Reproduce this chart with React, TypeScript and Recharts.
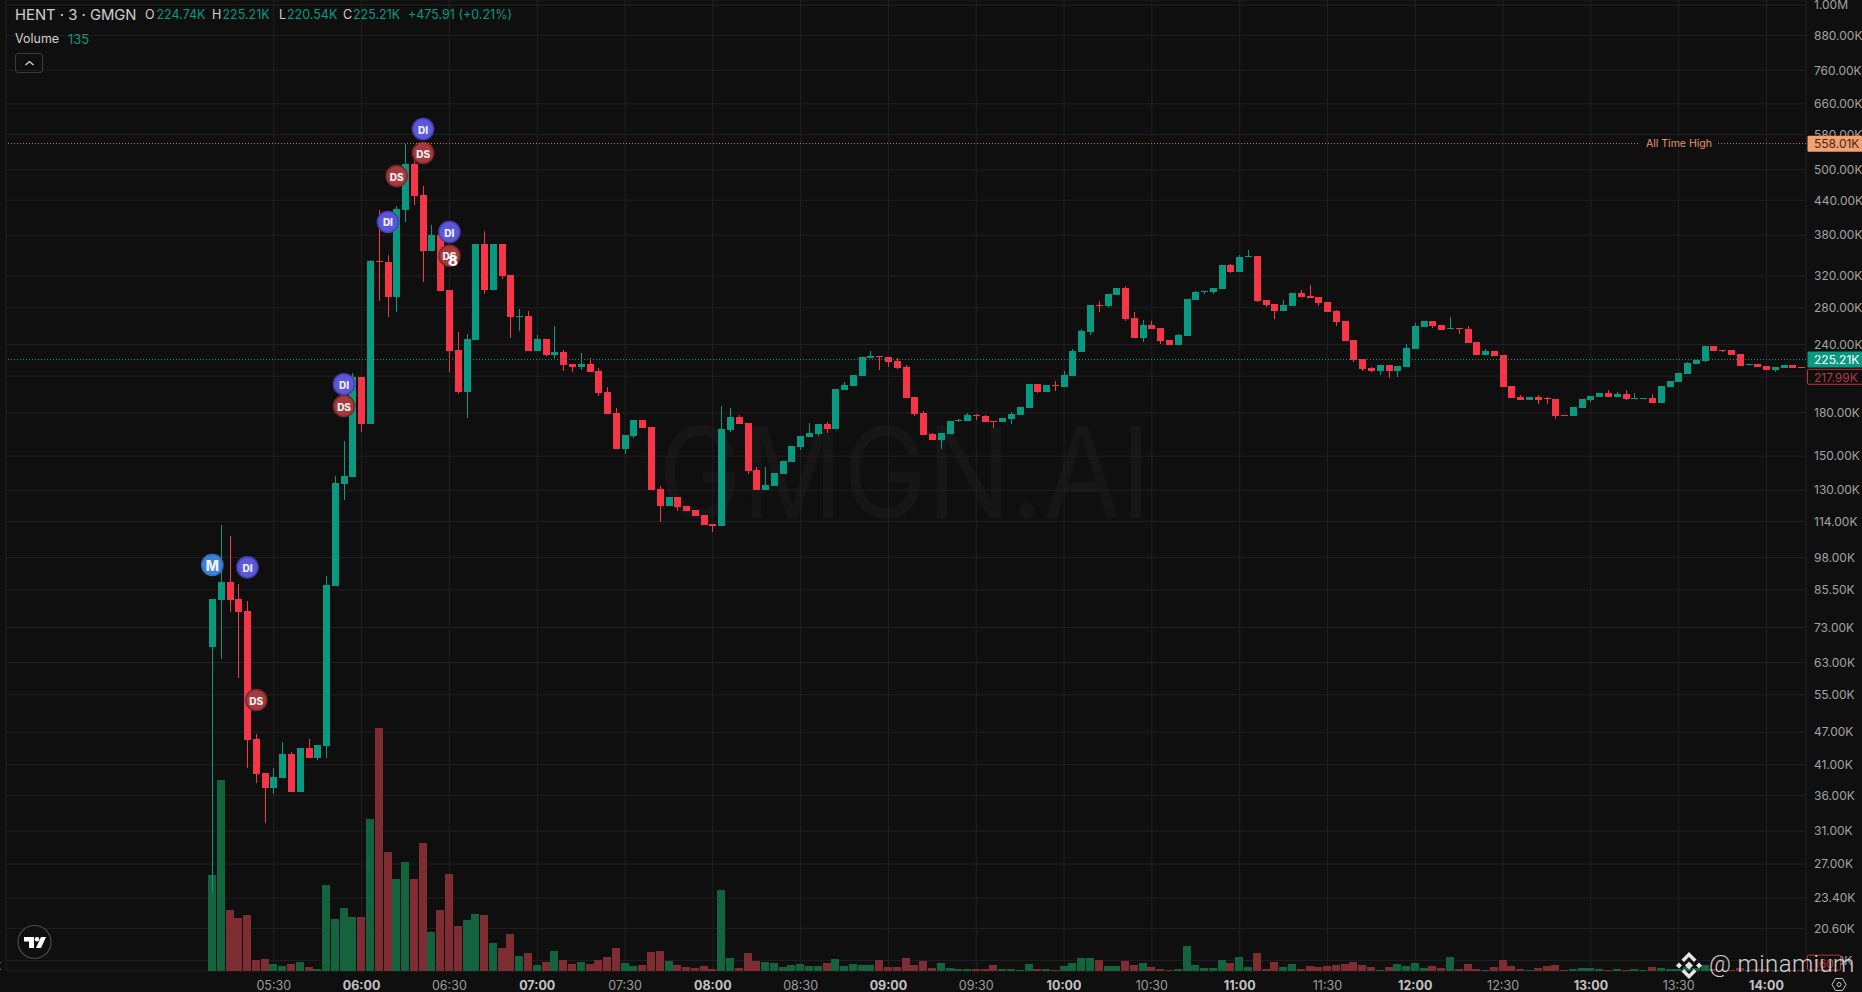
import {
  Bar,
  CartesianGrid,
  ComposedChart,
  ReferenceDot,
  ReferenceLine,
  XAxis,
  YAxis,
} from "recharts";

const BG = "#0f0f0f";
const GRID = "#212121";
const UP = "#089981";
const DOWN = "#f63648";
const VOL_UP = "#14633f";
const VOL_DOWN = "#7e2e33";
const AXIS_TEXT = "#a3a3a3";
const FONT = "Inter, 'Noto Sans', sans-serif";

// prices in thousands, one entry per 3 minute candle starting at 05:09
const OPENS = [
  67.2, 81.9, 88.4, 82.2, 78.2, 45.7, 39.6, 37.2, 38.8, 42.9, 36.5, 44, 42.2, 44.3, 86.8, 133.4, 137.4, 209.2, 171.7, 340.8,
  339.4, 292.8, 422.3, 512.3, 450, 355.4, 380.2, 301.6, 234.4, 196.4, 244.4, 366.1, 301.6, 366.1, 321, 269.5, 270.5, 233.4, 245.4, 229.5,
  232.4, 220.9, 218.2, 220.9, 214.6, 196.4, 179.8, 154.5, 163.2, 174.6, 169.5, 130.6, 121.6, 126.3, 121.6, 119.6, 117.1, 112.8, 111.8, 167.4,
  176.8, 172.4, 141.5, 130.1, 132.3, 139.1, 146.4, 155.8, 162.5, 164.6, 171.7, 168.1, 198.1, 201.5, 210.1, 226.6, 228.5, 227.6, 223.8, 218.2,
  192.3, 179.8, 164.6, 160.5, 164.6, 173.9, 173.9, 178.3, 177.5, 173.9, 173.1, 175.3, 178.3, 183.7, 203.2, 196.4, 202.3, 200.6, 210.1, 232.4,
  252.9, 283.2, 282, 295.4, 304.2, 268.2, 246.5, 260.4, 257.2, 244.4, 239.2, 248.6, 289.2, 299, 299, 302.9, 335.1, 325.3, 346.6, 348,
  289.2, 284.4, 276.1, 282, 298, 294, 292.8, 286.8, 276.1, 264.8, 244.4, 225.6, 217.3, 214.6, 220, 214.6, 218.2, 235.4, 258.2, 264.8,
  260.4, 256.1, 257.2, 256.1, 242.3, 229.5, 233.4, 229.5, 201.5, 192.3, 189.9, 192.3, 191.5, 190.7, 178.3, 177.5, 183.7, 189.9, 192.3, 195.6,
  192.3, 194.7, 190.7, 190.7, 191.5, 187.6, 200.6, 204.9, 211.9, 221, 223.8, 238.2, 234.4, 234.4, 230.5, 220, 220.9, 219.1, 215.5, 217.3,
  220, 218.2,
];
const HIGHS = [
  82.2, 112.3, 107.2, 87.6, 81.6, 46.6, 39.6, 40.4, 45.1, 43.2, 44, 45.7, 44.5, 90.6, 138, 159.8, 212.8, 209.2, 342.2, 422.3,
  349.4, 430, 558.01, 518.9, 466.9, 396.6, 380.2, 301.6, 252.9, 250.8, 366.1, 386.6, 366.1, 366.1, 321, 278.5, 276.1, 249.7, 245.4, 259.3,
  234.4, 220.9, 231.5, 226.6, 217.3, 200.6, 183.7, 163.9, 174.6, 174.6, 169.5, 132.3, 126.3, 126.3, 121.6, 119.6, 117.1, 112.8, 185.2, 183.7,
  178.3, 172.4, 143.3, 143.3, 139.7, 146.9, 156.5, 163.2, 172.4, 171.7, 173.1, 198.9, 204.8, 211.1, 227.6, 233.4, 228.5, 227.6, 226.6, 220,
  192.3, 181.3, 165.3, 165.3, 173.9, 175.3, 179.8, 179, 178.3, 173.9, 176.1, 180.6, 184.4, 203.2, 203.2, 202.3, 205.7, 214.6, 235.4, 256.1,
  283.2, 288, 296.6, 304.2, 306.7, 275, 265.9, 264.8, 257.2, 244.4, 250.8, 290.4, 300.3, 300.3, 304.2, 335.1, 336.5, 349.4, 356.9, 348,
  289.2, 284.4, 289.2, 298, 301.6, 307.9, 292.8, 286.8, 277.3, 264.8, 244.4, 225.6, 218.2, 220, 220, 219.1, 240.2, 262.6, 264.8, 264.8,
  260.4, 269.3, 257.2, 259.3, 242.3, 235.4, 233.4, 229.5, 201.5, 194, 192.3, 194, 192.3, 190.7, 178.3, 184.4, 190.7, 193.1, 195.6, 198.1,
  196.4, 198.1, 195.6, 191.5, 194.7, 201.5, 205.7, 212.8, 222.8, 224.7, 238.2, 238.2, 234.4, 234.4, 230.5, 220.9, 220.9, 219.1, 218.2, 220,
  220, 218.2,
];
const LOWS = [
  24, 63.9, 77.9, 59, 40.4, 37.9, 32.1, 36.3, 38.8, 36.5, 36.5, 42.2, 41.8, 42.2, 86.8, 124.7, 137.4, 166, 171.7, 288,
  269.3, 275, 401.6, 431.3, 312, 355.4, 300.3, 213.7, 194.7, 176.1, 244.4, 296.6, 301.6, 316, 246.5, 253.9, 233.4, 233.4, 228.5, 226.6,
  214.6, 213.7, 215.5, 213.7, 193, 179, 154.5, 151.3, 161.9, 168.8, 130.1, 113.8, 121.6, 119.1, 119.1, 116.6, 112.3, 109.1, 111.8, 166,
  171.7, 139.1, 130.1, 130.1, 132.3, 139.1, 146.4, 153.9, 162.5, 163.2, 165.3, 168.1, 198.1, 201.5, 210.1, 226.6, 215.5, 218.2, 216.4, 191.5,
  177.5, 163.9, 160.5, 154.5, 164.6, 173.1, 173.9, 174.6, 173.1, 168.8, 173.1, 171.7, 178.3, 183.7, 195.6, 196.4, 197.3, 200.6, 210.1, 232.4,
  249.7, 275, 280.7, 295.4, 264.8, 246.5, 242.3, 256.1, 240.2, 239.2, 239.2, 248.6, 289.2, 296.6, 296.6, 302.9, 323.9, 325.3, 346.6, 286.8,
  280.7, 267, 276.1, 282, 292.8, 291.6, 282, 275, 259.3, 243.4, 222.8, 214.6, 213.7, 211.1, 208.4, 209.2, 218.2, 235.4, 258.2, 257.2,
  255, 256.1, 250.8, 241.3, 229.5, 229.5, 228.5, 200.6, 191.5, 189.9, 189.9, 186.8, 186.8, 175.3, 177.5, 177.5, 183.7, 188.3, 192.3, 192.3,
  192.3, 189.9, 190.7, 190.7, 187.6, 187.6, 200.6, 204.9, 211.9, 221, 222.8, 233.4, 232.4, 229.5, 219.1, 220, 218.2, 215.5, 213.7, 217.3,
  217.3, 217.99,
];
const CLOSES = [
  82.2, 88.4, 81.9, 77.9, 45.5, 39.4, 37.2, 39, 42.9, 36.5, 44, 42.2, 44.5, 87.2, 134, 138, 209.2, 171.7, 340.8, 339.4,
  292.8, 424.1, 512.3, 448, 355.4, 380.2, 300.3, 233.4, 196.4, 245.4, 366.1, 301.6, 366.1, 320, 269.3, 270.5, 233.4, 245.4, 229.5, 232.4,
  220, 218.2, 220.9, 213.7, 195.6, 179, 154.5, 163.9, 174.6, 168.8, 130.1, 121.6, 126.3, 121.1, 119.1, 116.6, 112.3, 111.8, 168.1, 176.8,
  171.7, 140.9, 130.1, 132.9, 139.7, 146.9, 156.5, 163.2, 165.3, 171.7, 168.1, 198.9, 202.3, 211.1, 227.6, 228.5, 227.6, 222.8, 217.3, 191.5,
  179, 163.9, 160.5, 165.3, 173.9, 174.6, 178.3, 177.5, 173.1, 173.1, 176.1, 179, 184.4, 203.2, 196.4, 202.3, 201.5, 211.1, 233.4, 253.9,
  283.2, 282, 296.6, 304.2, 267, 246.5, 260.4, 256.1, 243.4, 239.2, 249.7, 290.4, 299, 300.3, 304.2, 335.1, 325.3, 346.6, 348, 288,
  283.2, 276.1, 283.2, 298, 292.8, 291.6, 285.6, 275, 263.7, 243.4, 224.7, 216.4, 214.6, 220, 214.6, 219.1, 236.4, 259.3, 264.8, 259.3,
  255, 257.2, 256.1, 241.3, 229.5, 233.4, 228.5, 200.6, 191.5, 189.9, 192.3, 189.9, 190.7, 177.5, 177.5, 184.4, 190.7, 193.1, 195.6, 192.3,
  194.7, 190.7, 191.5, 191.5, 187.6, 201.5, 205.7, 212.8, 221.9, 224.7, 238.2, 233.4, 233.4, 229.5, 219.1, 220.9, 218.2, 215.5, 218.2, 220,
  217.3, 217.99,
];
const VOLUMES = [
  9600, 19100, 6100, 5300, 5600, 1100, 1200, 700, 500, 700, 900, 400, 200, 8600, 5200, 6300, 5400, 5400, 15200, 24300,
  11900, 9200, 10900, 9200, 12800, 3900, 6100, 9700, 4500, 5100, 5700, 5600, 2800, 2300, 3700, 1500, 1800, 600, 900, 2000,
  1100, 700, 900, 700, 1100, 1400, 2300, 800, 500, 600, 1900, 2000, 1000, 600, 400, 300, 500, 200, 8100, 1300,
  300, 1800, 1000, 900, 800, 400, 600, 700, 500, 500, 800, 1200, 500, 700, 600, 600, 1100, 400, 400, 1300,
  600, 1000, 300, 800, 300, 200, 200, 200, 200, 600, 200, 200, 100, 700, 200, 200, 100, 500, 800, 1300,
  1300, 1100, 500, 500, 1000, 600, 800, 400, 200, 100, 200, 2500, 600, 300, 300, 1100, 800, 1400, 400, 1800,
  200, 900, 400, 700, 200, 500, 400, 500, 600, 700, 900, 600, 400, 100, 400, 700, 500, 800, 300, 500,
  300, 1400, 200, 700, 200, 100, 400, 1100, 500, 200, 100, 300, 500, 600, 100, 200, 300, 300, 200, 100,
  200, 100, 200, 100, 400, 300, 200, 200, 400, 300, 600, 200, 100, 100, 300, 100, 200, 200, 100, 100,
  100, 135,
];

const PRICE_TICKS = [
  1000, 880, 760, 660, 580, 500, 440, 380, 320, 280, 240, 210, 180, 150, 130, 114, 98, 85.5, 73, 63, 55, 47, 41, 36, 31, 27,
  23.4, 20.6, 18,
];
const TIME_TICKS = [
  "05:30", "06:00", "06:30", "07:00", "07:30", "08:00", "08:30", "09:00", "09:30", "10:00", "10:30", "11:00", "11:30",
  "12:00", "12:30", "13:00", "13:30", "14:00",
];

// the time scale opens empty at 04:00, the first candle is number 23
const EMPTY_SLOTS = 23;
const SLOT_COUNT = EMPTY_SLOTS + OPENS.length;
const PRICE_DOMAIN = [17.22, 1021.2];

const MARKERS = [
  { time: "05:09", price: 94.9, kind: "M" },
  { time: "05:21", price: 94, kind: "DI" },
  { time: "05:24", price: 53.8, kind: "DS" },
  { time: "05:54", price: 203, kind: "DI" },
  { time: "05:54", price: 185.2, kind: "DS" },
  { time: "06:09", price: 401.6, kind: "DI" },
  { time: "06:12", price: 487, kind: "DS" },
  { time: "06:21", price: 593.5, kind: "DI" },
  { time: "06:21", price: 536.6, kind: "DS" },
  { time: "06:30", price: 385, kind: "DI" },
  { time: "06:30", price: 348.5, kind: "DS" },
];

const slotTime = (i: number) => {
  const minutes = 4 * 60 + i * 3;
  const hh = String(Math.floor(minutes / 60)).padStart(2, "0");
  const mm = String(minutes % 60).padStart(2, "0");
  return `${hh}:${mm}`;
};

const data = Array.from({ length: SLOT_COUNT }, (_, i) => {
  const c = i - EMPTY_SLOTS;
  if (c < 0) return { time: slotTime(i) };
  const open = OPENS[c];
  const close = CLOSES[c];
  return {
    time: slotTime(i),
    open,
    close,
    wick: [LOWS[c], HIGHS[c]],
    body: [Math.min(open, close), Math.max(open, close)],
    volume: VOLUMES[c],
  };
});

const formatPrice = (v: number) => (v >= 1000 ? `${(v / 1000).toFixed(2)}M` : `${v.toFixed(2)}K`);

function CandlePart(props: any) {
  const { x, y, width, height, payload } = props;
  if (payload?.open == null) return null;
  const top = Math.round(y);
  const h = Math.max(Math.round(y + height) - top, 1);
  return (
    <rect
      x={Math.round(x)}
      y={top}
      width={width}
      height={h}
      fill={payload.close >= payload.open ? UP : DOWN}
      shapeRendering="crispEdges"
    />
  );
}

function VolumeBar(props: any) {
  const { x, y, width, height, payload } = props;
  if (payload?.open == null) return null;
  const top = Math.round(y);
  return (
    <rect
      x={Math.round(x)}
      y={top}
      width={width}
      height={Math.max(Math.round(y + height) - top, 1)}
      fill={payload.close >= payload.open ? VOL_UP : VOL_DOWN}
      shapeRendering="crispEdges"
    />
  );
}

function TimeTick(props: any) {
  const { x, y, payload } = props;
  const hour = payload.value.endsWith(":00");
  return (
    <text
      x={x}
      y={y + 6}
      textAnchor="middle"
      dominantBaseline="central"
      fontFamily={FONT}
      fontSize={12.5}
      fontWeight={hour ? 700 : 400}
      fill={hour ? "#c4c4c4" : "#9c9c9c"}
    >
      {payload.value}
    </text>
  );
}

function PriceTag(props: any) {
  const { viewBox, text, bg, fg, border, note, noteColor, tagWidth, dy = 0 } = props;
  const right = viewBox.x + viewBox.width;
  const y = viewBox.y;
  return (
    <g>
      {note ? (
        <>
          <rect x={right - 167} y={y - 6} width={77} height={12} fill={BG} />
          <text x={right - 127} y={y} textAnchor="middle" dominantBaseline="central" fontFamily={FONT} fontSize={10.5} fill={noteColor}>
            {note}
          </text>
        </>
      ) : null}
      <rect x={right + 1.5} y={y + dy - 8} width={tagWidth ?? 55} height={border ? 15 : 16} fill={bg} stroke={border ?? "none"} rx={1} />
      <text x={right + 8} y={y + dy} dominantBaseline="central" fontFamily={FONT} fontSize={12} fill={fg}>
        {text}
      </text>
    </g>
  );
}

function MarkerIcon(props: any) {
  const { cx, cy, kind } = props;
  const fill = kind === "M" ? "#3b82dc" : kind === "DI" ? "#5b58dc" : "#a63a3d";
  const ring = kind === "M" ? "#3472c4" : kind === "DI" ? "#4a40b4" : "#7c2a2d";
  return (
    <g>
      <circle cx={cx} cy={cy} r={10.5} fill={fill} stroke={ring} strokeWidth={1.6} />
      <text
        x={cx}
        y={cy + 0.5}
        textAnchor="middle"
        dominantBaseline="central"
        fontFamily={FONT}
        fontSize={kind === "M" ? 14 : 10}
        fontWeight={800}
        fill="#f2f2f2"
      >
        {kind}
      </text>
    </g>
  );
}

function Label({ x, y, color, size, weight, children }: any) {
  return (
    <span
      style={{
        position: "absolute",
        left: x,
        top: y,
        transform: "translateY(-50%)",
        color,
        fontSize: size,
        fontWeight: weight ?? 400,
        whiteSpace: "nowrap",
        lineHeight: 1,
      }}
    >
      {children}
    </span>
  );
}

function Header() {
  const light = "#cfcfcf";
  const rows: [number, number, string, string][] = [
    [145, 156.5, "O", "224.74K"],
    [212, 222.5, "H", "225.21K"],
    [279, 287, "L", "220.54K"],
    [343, 353, "C", "225.21K"],
  ];
  return (
    <>
      <Label x={15} y={15} color={light} size={14.8}>HENT · 3 · GMGN</Label>
      {rows.map(([x, vx, key, value]) => (
        <span key={key}>
          <Label x={x} y={15} color={light} size={12.5}>{key}</Label>
          <Label x={vx} y={15} color={UP} size={12.5}>{value}</Label>
        </span>
      ))}
      <Label x={408} y={15} color={UP} size={12.5}>+475.91 (+0.21%)</Label>
      <Label x={15} y={38.5} color={light} size={12.5}>Volume</Label>
      <Label x={68} y={38.5} color={UP} size={13}>135</Label>
      <div style={{ position: "absolute", left: 15, top: 53, width: 28, height: 20, border: "1px solid #3a3a3a", borderRadius: 3, boxSizing: "border-box" }} />
      <svg style={{ position: "absolute", left: 24, top: 59 }} width={11} height={8}>
        <path d="M1.5 6 L5.5 2.5 L9.5 6" fill="none" stroke="#d8d8d8" strokeWidth={1.3} />
      </svg>
    </>
  );
}

function TvLogo() {
  return (
    <svg style={{ position: "absolute", left: 16, top: 923 }} width={37} height={38}>
      <circle cx={18.5} cy={19} r={16.5} fill={BG} stroke="#4a4a4a" strokeWidth={1.2} />
      <path d="M8 14 H18 V25 H13 V18.5 H8 Z" fill="#fff" />
      <circle cx={21} cy={16.3} r={2.3} fill="#fff" />
      <path d="M25 14 H30 L25 25 H20 Z" fill="#fff" />
    </svg>
  );
}

function BinanceMark() {
  return (
    <>
      <svg style={{ position: "absolute", left: 1675, top: 951 }} width={28} height={29} viewBox="0 0 28 29">
        <g fill="#e4e4e4">
          <path d="M14 10.5 L18 14.5 L14 18.5 L10 14.5 Z" />
          <path d="M4 11.5 L7 14.5 L4 17.5 L1 14.5 Z" />
          <path d="M24 11.5 L27 14.5 L24 17.5 L21 14.5 Z" />
          <path d="M14 1 L21.5 8.5 L19 11 L14 6 L9 11 L6.5 8.5 Z" />
          <path d="M14 28 L21.5 20.5 L19 18 L14 23 L9 18 L6.5 20.5 Z" />
        </g>
      </svg>
      <span
        style={{
          position: "absolute",
          left: 1709,
          top: 964,
          transform: "translateY(-50%)",
          fontFamily: "Roboto, sans-serif",
          fontSize: 24,
          fontWeight: 300,
          letterSpacing: 0.4,
          lineHeight: 1,
          color: "rgba(235,235,235,0.88)",
          whiteSpace: "nowrap",
        }}
      >
        @ minamium
      </span>
    </>
  );
}

function SettingsIcon() {
  return (
    <svg style={{ position: "absolute", left: 1831, top: 977 }} width={16} height={15}>
      <path d="M4.5 1.5 H11.5 L15 7.5 L11.5 13.5 H4.5 L1 7.5 Z" fill="none" stroke="#c8c8c8" strokeWidth={1} />
      <circle cx={8} cy={7.5} r={2} fill="none" stroke="#c8c8c8" strokeWidth={1} />
    </svg>
  );
}

const CHART_MARGIN = { top: 0, right: 0, bottom: 0, left: 6 };

export default function App() {
  return (
    <div
      style={{
        position: "absolute",
        left: 0,
        top: 0,
        width: 1862,
        height: 992,
        background: BG,
        overflow: "hidden",
        fontFamily: FONT,
      }}
    >
      <div
        style={{
          position: "absolute",
          left: 658,
          top: 472,
          transform: "translateY(-50%) scaleX(0.89)",
          transformOrigin: "left center",
          fontSize: 126,
          lineHeight: 1,
          color: "#161616",
          whiteSpace: "nowrap",
        }}
      >
        GMGN.AI
      </div>
      <div style={{ position: "absolute", left: 0, top: 0 }}>
        <ComposedChart width={1862} height={992} data={data} margin={CHART_MARGIN}>
          <CartesianGrid xAxisId="time" yAxisId="price" stroke={GRID} strokeWidth={1} />
          <XAxis
            xAxisId="time"
            dataKey="time"
            ticks={TIME_TICKS}
            interval={0}
            height={21}
            tickLine={false}
            axisLine={false}
            tick={<TimeTick />}
          />
          <XAxis xAxisId="body" dataKey="time" hide height={0} />
          <XAxis xAxisId="vol" dataKey="time" hide height={0} />
          <YAxis
            yAxisId="price"
            orientation="right"
            scale="log"
            type="number"
            domain={PRICE_DOMAIN}
            allowDataOverflow
            ticks={PRICE_TICKS}
            interval={0}
            width={56}
            tickLine={false}
            axisLine={false}
            tickMargin={2}
            tickFormatter={formatPrice}
            tick={{ fontSize: 12, fill: AXIS_TEXT, fontFamily: FONT, textAnchor: "start" }}
          />
          <YAxis yAxisId="volume" hide domain={[0, 97100]} />
          <Bar xAxisId="vol" yAxisId="volume" dataKey="volume" barSize={8} shape={<VolumeBar />} isAnimationActive={false} />
          <Bar xAxisId="time" yAxisId="price" dataKey="wick" barSize={1} shape={<CandlePart />} isAnimationActive={false} />
          <Bar xAxisId="body" yAxisId="price" dataKey="body" barSize={7} shape={<CandlePart />} isAnimationActive={false} />
          {MARKERS.map((m, i) => (
            <ReferenceDot
              key={i}
              xAxisId="time"
              yAxisId="price"
              x={m.time}
              y={m.price}
              r={11}
              shape={<MarkerIcon kind={m.kind} />}
            />
          ))}
        </ComposedChart>
      </div>
      {/* second layer on the same scales, the price tags have to cover the axis labels */}
      <div style={{ position: "absolute", left: 0, top: 0 }}>
        <ComposedChart width={1862} height={992} data={data} margin={CHART_MARGIN}>
          <XAxis xAxisId="time" dataKey="time" height={21} tick={false} tickLine={false} axisLine={false} />
          <YAxis
            yAxisId="price"
            orientation="right"
            scale="log"
            type="number"
            domain={PRICE_DOMAIN}
            allowDataOverflow
            width={56}
            tick={false}
            tickLine={false}
            axisLine={false}
          />
          <ReferenceLine
            xAxisId="time"
            yAxisId="price"
            y={558.01}
            stroke="#c4743f"
            strokeDasharray="1 2"
            shapeRendering="crispEdges"
            label={<PriceTag text="558.01K" bg="#f4a06f" fg="#3b2a20" note="All Time High" noteColor="#e8946a" />}
          />
          <ReferenceLine
            xAxisId="time"
            yAxisId="price"
            y={225.21}
            stroke={UP}
            strokeDasharray="1 2"
            shapeRendering="crispEdges"
            label={<PriceTag text="225.21K" bg={UP} fg="#ffffff" />}
          />
          <ReferenceLine
            xAxisId="time"
            yAxisId="price"
            y={217.99}
            stroke="none"
            label={<PriceTag text="217.99K" bg={BG} fg="#b8363f" border="#b8363f" dy={10} />}
          />
          <ReferenceLine
            xAxisId="time"
            yAxisId="price"
            y={17.8}
            stroke="none"
            label={<PriceTag text="160" bg={BG} fg="#b8363f" border="#b8363f" tagWidth={33} />}
          />
        </ComposedChart>
      </div>
      <Label x={448} y={260} color="#ffffff" size={15} weight={800}>8</Label>
      <Label x={-6} y={966} color="#8a8a8a" size={11}>K</Label>
      <Header />
      <TvLogo />
      <BinanceMark />
      <SettingsIcon />
    </div>
  );
}
